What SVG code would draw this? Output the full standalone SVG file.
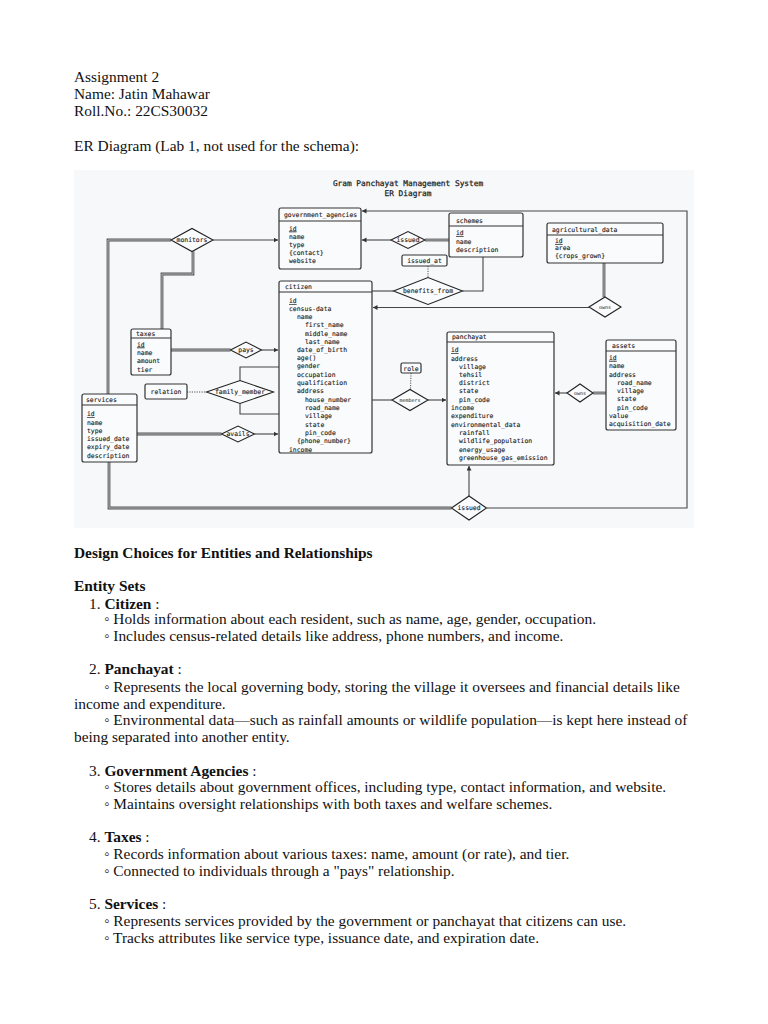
<svg xmlns="http://www.w3.org/2000/svg" width="768" height="1024" viewBox="0 0 768 1024">
<style>
.doc{font-family:"Liberation Serif","Times New Roman",serif;font-size:15.4px;fill:#111}
.b{font-weight:bold}
.m{font-family:"DejaVu Sans Mono","Liberation Mono",monospace;font-size:6.4px;fill:#1a1a1a;stroke:#1a1a1a;stroke-width:0.12}
.mt{font-family:"DejaVu Sans Mono","Liberation Mono",monospace;font-size:7.8px;fill:#222;stroke:#222;stroke-width:0.25}
.ms{font-family:"DejaVu Sans Mono","Liberation Mono",monospace;font-size:5px;fill:#222}
.ent{fill:#fafbfc;stroke:#333;stroke-width:1.2}
.hl{stroke:#333;stroke-width:1.2}
.dia{fill:#fafbfc;stroke:#222;stroke-width:1.1}
.ln{fill:none;stroke:#444;stroke-width:1.1}
.dO{fill:none;stroke:#555;stroke-width:2.8}
.dI{fill:none;stroke:#c4c4c4;stroke-width:0.9}
.dot{fill:none;stroke:#444;stroke-width:0.9;stroke-dasharray:1.2 1.2}
.u{text-decoration:underline}
</style>
<defs>
<marker id="ar" markerUnits="userSpaceOnUse" markerWidth="6" markerHeight="6" refX="4.5" refY="2.5" orient="auto">
<path d="M0,0 L4.5,2.5 L0,5 Z" fill="#333"/>
</marker>
</defs>
<rect width="768" height="1024" fill="#ffffff"/>

<text class="doc" x="74" y="82">Assignment 2</text>
<text class="doc" x="74" y="99">Name: Jatin Mahawar</text>
<text class="doc" x="74" y="116">Roll.No.: 22CS30032</text>
<text class="doc" x="74" y="151">ER Diagram (Lab 1, not used for the schema):</text>

<rect x="74" y="170" width="620" height="358" fill="#f7f8fa"/>
<text class="mt" x="408" y="185.5" text-anchor="middle">Gram Panchayat Management System</text>
<text class="mt" x="408" y="195.5" text-anchor="middle">ER Diagram</text>

<g id="connectors">
<path class="ln" d="M213,240 L278,240" marker-end="url(#ar)"/>
<path class="ln" d="M391,240 L362,240" marker-end="url(#ar)"/>
<path class="ln" d="M487,508 L687,508 L687,211 L362,211" marker-end="url(#ar)"/>
<path class="ln" d="M393.5,291 L372,291"/>
<path class="ln" d="M589,307.5 L373,307.5" marker-end="url(#ar)"/>
<path class="ln" d="M483,257 L483,291 L462.5,291"/>
<path class="ln" d="M261.5,350 L278,350" marker-end="url(#ar)"/>
<path class="ln" d="M254.5,434 L278,434" marker-end="url(#ar)"/>
<path class="ln" d="M392,400 L372,400"/>
<path class="ln" d="M428,400 L446,400" marker-end="url(#ar)"/>
<path class="ln" d="M567,393 L555,393" marker-end="url(#ar)"/>
<path class="ln" d="M469,496 L469,466" marker-end="url(#ar)"/>
<path class="ln" d="M240,380.5 L240,367 L279,367"/>
<path class="ln" d="M240,403.5 L240,414 L279,414"/>
<path class="dO" d="M171,240 L108,240 L108,394"/>
<path class="dI" d="M171,240 L108,240 L108,394"/>
<path class="dO" d="M162,329 L162,274 L193,274 L193,251.5"/>
<path class="dI" d="M162,329 L162,274 L193,274 L193,251.5"/>
<path class="dO" d="M171,350 L230.5,350"/>
<path class="dI" d="M171,350 L230.5,350"/>
<path class="dO" d="M137,434 L221.5,434"/>
<path class="dI" d="M137,434 L221.5,434"/>
<path class="dO" d="M109,462 L109,508 L451.5,508"/>
<path class="dI" d="M109,462 L109,508 L451.5,508"/>
<path class="dO" d="M425,240 L449,240"/>
<path class="dI" d="M425,240 L449,240"/>
<path class="dO" d="M604,263 L604,297"/>
<path class="dI" d="M604,263 L604,297"/>
<path class="dO" d="M593,393 L606,393"/>
<path class="dI" d="M593,393 L606,393"/>
<path class="dot" d="M187,392 L206.5,392"/>
<path class="dot" d="M428,266 L428,277.5"/>
<path class="dot" d="M411,373 L410.5,389.5"/>
</g>

<g id="government_agencies">
<rect class="ent" x="279" y="208" width="82" height="61" rx="2"/>
<line class="hl" x1="279" y1="221" x2="361" y2="221"/>
<text class="m" x="284" y="217">government_agencies</text>
<text class="m u" x="289" y="230.5">id</text>
<text class="m" x="289" y="239">name</text>
<text class="m" x="289" y="247">type</text>
<text class="m" x="289" y="255">{contact}</text>
<text class="m" x="289" y="263">website</text>
</g>

<g id="schemes">
<rect class="ent" x="449" y="213" width="74" height="44" rx="2"/>
<line class="hl" x1="449" y1="226" x2="523" y2="226"/>
<text class="m" x="456" y="223">schemes</text>
<text class="m u" x="456" y="235">id</text>
<text class="m" x="456" y="243.5">name</text>
<text class="m" x="456" y="251.5">description</text>
</g>

<g id="issued_at">
<rect class="ent" x="402" y="255" width="45" height="11" rx="1.5" stroke-width="1.5"/>
<text class="m" x="424.5" y="263" text-anchor="middle">issued_at</text>
</g>

<g id="agricultural_data">
<rect class="ent" x="547" y="223" width="116" height="40" rx="2"/>
<line class="hl" x1="547" y1="235" x2="663" y2="235"/>
<text class="m" x="552" y="231.5">agricultural_data</text>
<text class="m u" x="555" y="243">id</text>
<text class="m" x="555" y="250">area</text>
<text class="m" x="555" y="258">{crops_grown}</text>
</g>

<g id="citizen">
<rect class="ent" x="279" y="281" width="93" height="172" rx="2"/>
<line class="hl" x1="279" y1="292" x2="372" y2="292"/>
<text class="m" x="285" y="289">citizen</text>
<text class="m u" x="289" y="303.2">id</text>
<text class="m" x="289" y="311">census-data</text>
<text class="m" x="297" y="319">name</text>
<text class="m" x="305" y="327.2">first_name</text>
<text class="m" x="305" y="335.5">middle_name</text>
<text class="m" x="305" y="343.9">last_name</text>
<text class="m" x="297" y="352.2">date_of_birth</text>
<text class="m" x="297" y="360.2">age()</text>
<text class="m" x="297" y="368.4">gender</text>
<text class="m" x="297" y="376.9">occupation</text>
<text class="m" x="297" y="385.2">qualification</text>
<text class="m" x="297" y="393.2">address</text>
<text class="m" x="305" y="401.5">house_number</text>
<text class="m" x="305" y="409.9">road_name</text>
<text class="m" x="305" y="418.2">village</text>
<text class="m" x="305" y="426.5">state</text>
<text class="m" x="305" y="434.9">pin_code</text>
<text class="m" x="297" y="443.2">{phone_number}</text>
<text class="m" x="289" y="451.5">income</text>
</g>

<g id="role">
<rect class="ent" x="401" y="363" width="20" height="10" rx="1.5" stroke-width="1.5"/>
<text class="m" x="411" y="370.8" text-anchor="middle">role</text>
</g>

<g id="panchayat">
<rect class="ent" x="447" y="332" width="107" height="133" rx="2"/>
<line class="hl" x1="447" y1="342" x2="554" y2="342"/>
<text class="m" x="452" y="339">panchayat</text>
<text class="m u" x="451" y="352.2">id</text>
<text class="m" x="451" y="360.5">address</text>
<text class="m" x="459" y="368.9">village</text>
<text class="m" x="459" y="377.2">tehsil</text>
<text class="m" x="459" y="385.2">district</text>
<text class="m" x="459" y="393.2">state</text>
<text class="m" x="459" y="401.5">pin_code</text>
<text class="m" x="451" y="409.9">income</text>
<text class="m" x="451" y="418.2">expenditure</text>
<text class="m" x="451" y="426.5">environmental_data</text>
<text class="m" x="459" y="434.9">rainfall</text>
<text class="m" x="459" y="443.2">wildlife_population</text>
<text class="m" x="459" y="451.5">energy_usage</text>
<text class="m" x="459" y="459.9">greenhouse_gas_emission</text>
</g>

<g id="assets">
<rect class="ent" x="606" y="340" width="70" height="90" rx="2"/>
<line class="hl" x1="606" y1="351" x2="676" y2="351"/>
<text class="m" x="612" y="348">assets</text>
<text class="m u" x="609" y="359.9">id</text>
<text class="m" x="609" y="368.2">name</text>
<text class="m" x="609" y="376.5">address</text>
<text class="m" x="617" y="384.9">road_name</text>
<text class="m" x="617" y="393.2">village</text>
<text class="m" x="617" y="401.2">state</text>
<text class="m" x="617" y="409.5">pin_code</text>
<text class="m" x="609" y="417.9">value</text>
<text class="m" x="609" y="426.2">acquisition_date</text>
</g>

<g id="taxes">
<rect class="ent" x="131" y="329" width="40" height="46" rx="2"/>
<line class="hl" x1="131" y1="338" x2="171" y2="338"/>
<text class="m" x="136" y="335.5">taxes</text>
<text class="m u" x="137" y="346.5">id</text>
<text class="m" x="137" y="354.9">name</text>
<text class="m" x="137" y="363.2">amount</text>
<text class="m" x="137" y="371.5">tier</text>
</g>

<g id="services">
<rect class="ent" x="82" y="394" width="55" height="68" rx="2"/>
<line class="hl" x1="82" y1="405" x2="137" y2="405"/>
<text class="m" x="86" y="401.5">services</text>
<text class="m u" x="87" y="416.2">id</text>
<text class="m" x="87" y="424.5">name</text>
<text class="m" x="87" y="432.9">type</text>
<text class="m" x="87" y="440.9">issued_date</text>
<text class="m" x="87" y="449.2">expiry_date</text>
<text class="m" x="87" y="457.5">description</text>
</g>

<g id="relation">
<rect class="ent" x="145" y="384" width="42" height="15" rx="1.5" stroke-width="1.5"/>
<text class="m" x="166" y="394" text-anchor="middle">relation</text>
</g>

<g id="monitors">
<path class="dia" d="M171,240 L192,228.5 L213,240 L192,251.5 Z"/>
<text class="m" x="192" y="242.2" text-anchor="middle">monitors</text>
</g>
<g id="issued_top">
<path class="dia" d="M391,240 L408,231.5 L425,240 L408,248.5 Z"/>
<text class="m" x="408" y="242.2" text-anchor="middle">issued</text>
</g>
<g id="benefits_from">
<path class="dia" d="M393.5,291 L428,277.5 L462.5,291 L428,304.5 Z"/>
<text class="m" x="428" y="293.2" text-anchor="middle">benefits_from</text>
</g>
<g id="owns_agri">
<path class="dia" d="M589,307 L605,297 L621,307 L605,317 Z"/>
<text class="ms" x="605" y="308.8" text-anchor="middle">owns</text>
</g>
<g id="pays">
<path class="dia" d="M230.5,350 L246,342 L261.5,350 L246,358 Z"/>
<text class="m" x="246" y="352.2" text-anchor="middle">pays</text>
</g>
<g id="family_member">
<path class="dia" d="M206.5,392 L240,380.5 L273.5,392 L240,403.5 Z"/>
<text class="m" x="240" y="394.2" text-anchor="middle">family_member</text>
</g>
<g id="members">
<path class="dia" d="M392,400 L410,389.5 L428,400 L410,410.5 Z"/>
<text class="ms" x="410" y="401.8" text-anchor="middle">members</text>
</g>
<g id="owns_assets">
<path class="dia" d="M567,393 L580,384 L593,393 L580,402 Z"/>
<text class="ms" x="580" y="394.8" text-anchor="middle">owns</text>
</g>
<g id="avails">
<path class="dia" d="M221.5,434 L238,426 L254.5,434 L238,442 Z"/>
<text class="m" x="238" y="436.2" text-anchor="middle">avails</text>
</g>
<g id="issued_bottom">
<path class="dia" d="M451.5,508 L469,496 L486.5,508 L469,520 Z"/>
<text class="m" x="469" y="510.2" text-anchor="middle">issued</text>
</g>

<text class="doc b" x="74" y="558">Design Choices for Entities and Relationships</text>
<text class="doc b" x="74" y="591">Entity Sets</text>
<text class="doc" x="89" y="609">1. <tspan class="b">Citizen</tspan> :</text>
<text class="doc" x="104" y="624">◦ Holds information about each resident, such as name, age, gender, occupation.</text>
<text class="doc" x="104" y="641">◦ Includes census-related details like address, phone numbers, and income.</text>
<text class="doc" x="89" y="674">2. <tspan class="b">Panchayat</tspan> :</text>
<text class="doc" x="104" y="692">◦ Represents the local governing body, storing the village it oversees and financial details like</text>
<text class="doc" x="74" y="709">income and expenditure.</text>
<text class="doc" x="104" y="725">◦ Environmental data—such as rainfall amounts or wildlife population—is kept here instead of</text>
<text class="doc" x="74" y="742">being separated into another entity.</text>
<text class="doc" x="89" y="776">3. <tspan class="b">Government Agencies</tspan> :</text>
<text class="doc" x="104" y="792">◦ Stores details about government offices, including type, contact information, and website.</text>
<text class="doc" x="104" y="809">◦ Maintains oversight relationships with both taxes and welfare schemes.</text>
<text class="doc" x="89" y="842">4. <tspan class="b">Taxes</tspan> :</text>
<text class="doc" x="104" y="859">◦ Records information about various taxes: name, amount (or rate), and tier.</text>
<text class="doc" x="104" y="876">◦ Connected to individuals through a "pays" relationship.</text>
<text class="doc" x="89" y="909">5. <tspan class="b">Services</tspan> :</text>
<text class="doc" x="104" y="926">◦ Represents services provided by the government or panchayat that citizens can use.</text>
<text class="doc" x="104" y="943">◦ Tracks attributes like service type, issuance date, and expiration date.</text>
</svg>
